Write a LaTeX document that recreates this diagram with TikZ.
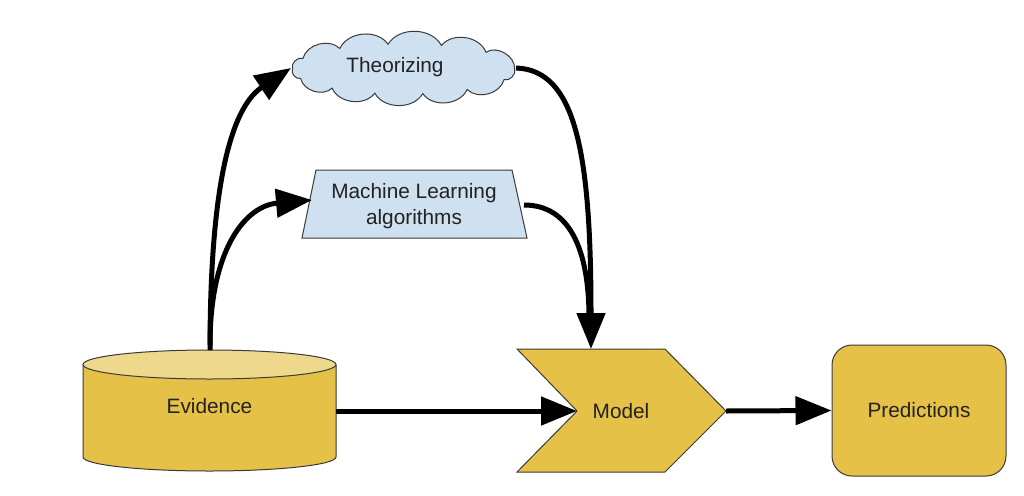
\documentclass[tikz,border=0pt]{standalone}
\usepackage{fontspec}
\setmainfont{Liberation Sans}
\usetikzlibrary{arrows.meta}
\definecolor{gold}{HTML}{E6C148}
\definecolor{goldlight}{HTML}{EDD88C}
\definecolor{lightblue}{HTML}{CFE0F1}
\definecolor{edge}{HTML}{3A3A3A}
\definecolor{txt}{HTML}{222222}
\begin{document}
\begin{tikzpicture}[x=1pt,y=-1pt,
  lbl/.style={font=\fontsize{20.8}{26}\selectfont, text=txt, align=center},
  shapeline/.style={draw=edge, line width=1pt},
  conn/.style={line width=5pt, black},
  bighead/.style={-{Triangle[length=36pt,width=28pt]}}]
\useasboundingbox (0,0) rectangle (1024,495);
% Cylinder (Evidence)
\fill[gold] (83,364.5) -- (83,457) arc[start angle=180,end angle=0,x radius=126.5,y radius=14] -- (336,364.5) -- cycle;
\draw[shapeline] (83,364.5) -- (83,457) arc[start angle=180,end angle=0,x radius=126.5,y radius=14] -- (336,364.5);
\draw[shapeline, fill=goldlight] (209.5,364.5) ellipse[x radius=126.5, y radius=14.5];
\node[lbl] (ev) at (209.5,406) {Evidence};
\coordinate (evtop) at (210,350);
\coordinate (evbranch) at (210,345);
\coordinate (evright) at (336,411);
% Cloud (Theorizing)
\foreach \i/\a in {0/0,1/25,2/55,3/80,4/105,5/130,6/158,7/180,8/205,9/235,10/262,11/290,12/318}
  \coordinate (cp\i) at ({403.5+111*cos(\a)},{69+25*sin(\a)});
\draw[shapeline, fill=lightblue] (cp0)
  to[bend left=65] (cp1) to[bend left=60] (cp2) to[bend left=60] (cp3) to[bend left=60] (cp4)
  to[bend left=60] (cp5) to[bend left=60] (cp6) to[bend left=65] (cp7) to[bend left=65] (cp8)
  to[bend left=60] (cp9) to[bend left=60] (cp10) to[bend left=60] (cp11) to[bend left=60] (cp12)
  to[bend left=65] (cp0) -- cycle;
\node[lbl] (theo) at (395,67) {Theorizing};
\coordinate (theoL) at (291,68);
\coordinate (theoR) at (516,68);
% Trapezium (ML)
\draw[shapeline, fill=lightblue] (316,170) -- (512,170) -- (527,238) -- (302,238) -- cycle;
\node[lbl] (ml) at (414,206) {Machine Learning\\algorithms};
\coordinate (mlleft) at (312,200);
\coordinate (mlright) at (524,205);
% Model chevron
\draw[shapeline, fill=gold] (517,349) -- (665,349) -- (726,411) -- (665,472) -- (517,472) -- (577,411) -- cycle;
\node[lbl] (model) at (621,411) {Model};
\coordinate (mtop) at (591,349);
\coordinate (mnotch) at (577,411);
\coordinate (mtip) at (726,411);
\coordinate (merge) at (589,318);
% Predictions
\node[lbl, shapeline, fill=gold, rounded corners=20pt, minimum width=174pt, minimum height=131pt] (pred) at (919,410.5) {Predictions};
% Connectors
\draw[conn, bighead] (evtop) .. controls (210,170) and (235,105) .. (theoL);
\draw[conn, bighead] (evbranch) .. controls (210,250) and (245,206) .. (mlleft);
\draw[conn, bighead] (theoR) .. controls (575,70) and (591,150) .. (mtop);
\draw[conn] (mlright) .. controls (570,205) and (589,250) .. (merge);
\draw[conn, bighead] (evright) -- (mnotch);
\draw[conn, bighead] (mtip) -- (pred.west);
\end{tikzpicture}
\end{document}
